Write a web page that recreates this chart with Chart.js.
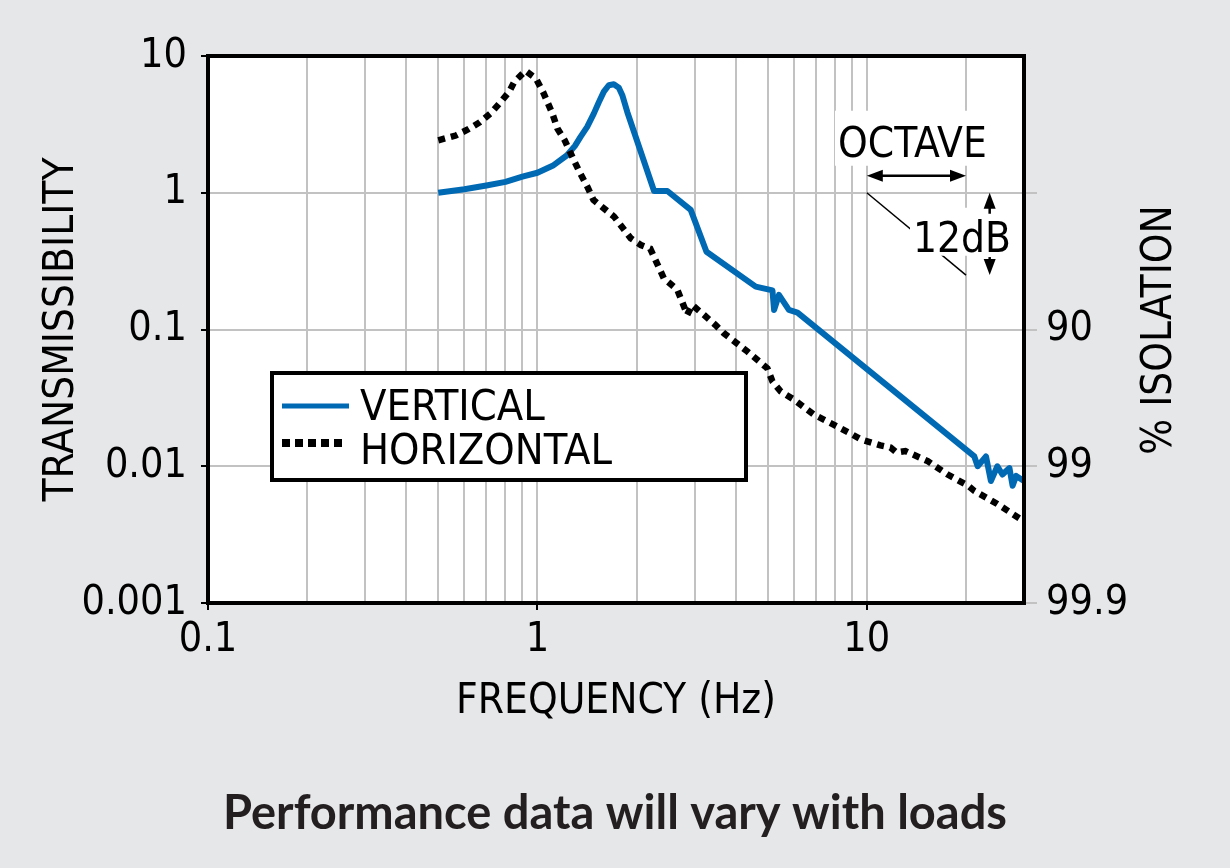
<!DOCTYPE html>
<html><head><meta charset="utf-8">
<script src="https://cdn.jsdelivr.net/npm/chart.js@4.4.1/dist/chart.umd.min.js"></script>
<style>
html,body{margin:0;padding:0;background:#e6e7e9;}
#wrap{width:1230px;height:868px;position:relative;}
canvas{display:block;}
</style></head><body>
<div id="wrap"><canvas id="c" width="1230" height="868"></canvas></div>
<script>
// ---- data ----
const vertFreq = [0.5,0.6,0.7,0.8,0.9,1.0,1.12,1.23,1.3,1.35,1.416,1.483,1.536,1.591,1.647,1.706,1.767,1.81,1.874,2.26,2.48,2.92,3.26,4.6,5.17,5.23,5.41,5.8,6.16,21.2,21.7,23.0,23.8,24.9,25.8,27.1,27.7,28.4,30];
const vertT    = [1.0,1.06,1.13,1.2,1.31,1.4,1.59,1.88,2.2,2.55,3.03,3.79,4.59,5.49,6.11,6.21,5.87,5.17,3.9,1.03,1.03,0.75,0.37,0.206,0.193,0.139,0.179,0.139,0.133,0.0118,0.010,0.0118,0.0078,0.010,0.0087,0.0097,0.0072,0.0085,0.0078];
const horFreq  = [0.5,0.565,0.615,0.669,0.72,0.767,0.82,0.85,0.92,0.99,1.04,1.11,1.15,1.21,1.29,1.35,1.42,1.48,1.71,1.92,2.06,2.2,2.42,2.66,2.85,2.95,3.2,3.47,3.68,4.34,4.99,5.17,5.48,6.01,6.92,7.95,8.94,9.6,11.0,11.8,12.3,13.1,15.3,17.6,20.3,21.2,24.9,29.3,30];
const horT     = [2.42,2.62,2.9,3.28,3.8,4.5,5.46,6.46,7.8,6.84,5.46,3.8,2.95,2.42,1.73,1.38,1.1,0.885,0.668,0.465,0.415,0.39,0.237,0.195,0.128,0.151,0.128,0.108,0.094,0.069,0.052,0.0417,0.0352,0.0307,0.0238,0.0201,0.0173,0.0157,0.0142,0.0137,0.0126,0.0129,0.0109,0.0087,0.0072,0.0066,0.0053,0.0041,0.0043];

const seriesLabels = ['VERTICAL','HORIZONTAL'];
const xGridValues = [0.1,0.2,0.3,0.4,0.5,0.6,0.7,0.8,0.9,1,2,3,4,5,6,7,8,9,10,20];
const xTickValues = [0.1,1,10];
const xTickLabels = ['0.1','1','10'];
const yTickValues = [10,1,0.1,0.01,0.001];
const yTickLabels = ['10','1','0.1','0.01','0.001'];
const isoTickValues = [1,0.1,0.01,0.001];
const isoTickLabels = ['','90','99','99.9'];

const xTitle = 'FREQUENCY (Hz)';
const yTitle = 'TRANSMISSIBILITY';
const isoTitle = '% ISOLATION';
const caption = 'Performance data will vary with loads';
const octaveText = 'OCTAVE';
const dbText = '12dB';
const octaveFrom = 10, octaveTo = 20;       // Hz
const slopeTop = 1, slopeBottom = 0.25;     // transmissibility (12 dB)
const dbArrowFreq = 23.6;                   // Hz

// ---- style ----
const F = "'DejaVu Sans Condensed','DejaVu Sans',sans-serif";
const FB = "Lato,'DejaVu Sans Condensed',sans-serif";
const BLUE = '#0069b4';
const GRID = '#c2c2c2';

const tickFont = {family:F, size:41, lineHeight:1.2};
const titleFont = {family:F, size:42, lineHeight:1.2};

const bgPlugin = {
  id:'bg',
  beforeDraw(chart){
    const {ctx, chartArea:a} = chart;
    ctx.save();
    ctx.fillStyle = '#ffffff';
    ctx.fillRect(a.left, a.top, a.right-a.left, a.bottom-a.top);
    ctx.restore();
  }
};

function arrowHead(ctx, tx, ty, dx, dy, len, hw){
  const px = -dy, py = dx;
  ctx.beginPath();
  ctx.moveTo(tx, ty);
  ctx.lineTo(tx - dx*len + px*hw, ty - dy*len + py*hw);
  ctx.lineTo(tx - dx*len - px*hw, ty - dy*len - py*hw);
  ctx.closePath();
  ctx.fill();
}

const overlayPlugin = {
  id:'overlay',
  afterDatasetsDraw(chart){
    const {ctx, chartArea:a} = chart;
    const xs = chart.scales.x, ys = chart.scales.y;
    const x10 = xs.getPixelForValue(octaveFrom), x20 = xs.getPixelForValue(octaveTo);
    const y1 = ys.getPixelForValue(slopeTop), y4 = ys.getPixelForValue(slopeBottom);
    const xa = xs.getPixelForValue(dbArrowFreq);
    ctx.save();
    ctx.fillStyle = '#000'; ctx.strokeStyle = '#000';
    // slope line
    ctx.lineWidth = 1.5;
    ctx.beginPath(); ctx.moveTo(x10, y1); ctx.lineTo(x20, y4); ctx.stroke();
    // OCTAVE label with white backing
    ctx.font = `42px ${F}`;
    ctx.textAlign = 'center'; ctx.textBaseline = 'alphabetic';
    const ocx = (x10 + x20)/2 - 4, ocy = y1 - 36;
    const ow = ctx.measureText(octaveText).width;
    ctx.fillStyle = '#fff';
    ctx.fillRect(ocx - ow/2 - 3, ocy - 46, ow + 6, 55);
    ctx.fillStyle = '#000';
    ctx.fillText(octaveText, ocx, ocy);
    // 12dB label with white backing
    const dcx = 962, dcy = y1 + 59;
    const dw = ctx.measureText(dbText).width;
    ctx.fillStyle = '#fff';
    ctx.fillRect(dcx - dw/2 - 3, dcy - 44, dw + 6, 48);
    ctx.fillStyle = '#000';
    ctx.fillText(dbText, dcx, dcy);
    // horizontal octave arrow
    const ay = y1 - 17;
    ctx.lineWidth = 2.5;
    ctx.beginPath(); ctx.moveTo(x10 + 10, ay); ctx.lineTo(x20 - 10, ay); ctx.stroke();
    arrowHead(ctx, x10, ay, -1, 0, 16, 6);
    arrowHead(ctx, x20, ay, 1, 0, 16, 6);
    // vertical 12 dB arrows
    ctx.beginPath(); ctx.moveTo(xa, y1 + 12); ctx.lineTo(xa, y1 + 21); ctx.stroke();
    arrowHead(ctx, xa, y1, 0, -1, 16, 6);
    ctx.beginPath(); ctx.moveTo(xa, y4 - 18); ctx.lineTo(xa, y4 - 10); ctx.stroke();
    arrowHead(ctx, xa, y4, 0, 1, 16, 6);
    // frame
    ctx.lineWidth = 4;
    ctx.strokeStyle = '#000';
    ctx.strokeRect(a.left, a.top, a.right - a.left, a.bottom - a.top);
    // right title (reads bottom-to-top)
    ctx.save();
    ctx.font = `42px ${F}`;
    ctx.textAlign = 'center'; ctx.textBaseline = 'middle';
    ctx.translate(1160, 330);
    ctx.rotate(-Math.PI/2);
    ctx.fillText(isoTitle, 0, 0);
    ctx.restore();
    // legend box
    const lx = 272, ly = 373, lw = 474, lh = 107;
    ctx.fillStyle = '#fff';
    ctx.fillRect(lx, ly, lw, lh);
    ctx.lineWidth = 4;
    ctx.strokeRect(lx, ly, lw, lh);
    const ds = chart.data.datasets;
    const rows = [406, 443];
    const baselines = [420, 464];
    ctx.font = `43px ${F}`;
    ctx.textAlign = 'left'; ctx.textBaseline = 'alphabetic';
    ds.forEach((d, i) => {
      ctx.save();
      ctx.strokeStyle = d.borderColor;
      if (d.borderDash && d.borderDash.length) { ctx.setLineDash([8,5]); ctx.lineWidth = 8; }
      else { ctx.setLineDash([]); ctx.lineWidth = 5; }
      ctx.beginPath(); ctx.moveTo(282, rows[i]); ctx.lineTo(i ? 345 : 349, rows[i]); ctx.stroke();
      ctx.restore();
      ctx.fillStyle = '#000';
      ctx.fillText(d.label, 360, baselines[i]);
    });
    ctx.restore();
  }
};

const labelOf = (vals, labels) => v => { const i = vals.findIndex(t => Math.abs(t - v) < 1e-9 * Math.max(1, v)); return i >= 0 ? labels[i] : ''; };

new Chart(document.getElementById('c'), {
  type:'line',
  data:{
    datasets:[
      { label:seriesLabels[0], data:vertFreq.map((f,i)=>({x:f,y:vertT[i]})),
        borderColor:BLUE, borderWidth:6, pointRadius:0, tension:0, order:1,
        borderJoinStyle:'round', fill:false },
      { label:seriesLabels[1], data:horFreq.map((f,i)=>({x:f,y:horT[i]})),
        borderColor:'#000', borderWidth:6.5, borderDash:[7,6], pointRadius:0, tension:0, order:0,
        fill:false }
    ]
  },
  options:{
    responsive:false, animation:false, devicePixelRatio:1,
    layout:{padding:{top:56,left:0,right:0,bottom:0}},
    plugins:{
      legend:{display:false}, tooltip:{enabled:false},
      title:{display:true, text:caption, position:'bottom', color:'#231f20',
        font:{family:FB, size:47, weight:'bold', lineHeight:1.2}, padding:{top:0,bottom:25.8}}
    },
    scales:{
      x:{ type:'logarithmic', min:0.1, max:30,
        afterBuildTicks:s=>{ s.ticks = xGridValues.map(v=>({value:v})); },
        afterFit:s=>{ s.height = 182.8; },
        ticks:{ autoSkip:false, maxRotation:0, minRotation:0, padding:5.4, color:'#000', font:tickFont,
          callback: labelOf(xTickValues, xTickLabels) },
        grid:{ color:GRID, lineWidth:2, tickLength:7, tickWidth:2,
          tickColor: c => (c.tick && xTickValues.some(t=>Math.abs(t-c.tick.value)<1e-9)) ? '#000' : 'rgba(0,0,0,0)' },
        border:{display:false},
        title:{display:true, text:xTitle, color:'#000', font:titleFont, padding:{top:0,bottom:58.1}}
      },
      y:{ type:'logarithmic', position:'left', min:0.001, max:10,
        afterBuildTicks:s=>{ s.ticks = yTickValues.map(v=>({value:v})); },
        afterFit:s=>{ s.width = 208; },
        ticks:{ padding:14, color:'#000', font:tickFont, callback: labelOf(yTickValues, yTickLabels) },
        grid:{ color:GRID, lineWidth:2, tickLength:7, tickWidth:2, tickColor:'#000' },
        border:{display:false},
        title:{display:true, text:yTitle, color:'#000', font:titleFont, padding:{top:37,bottom:0}}
      },
      iso:{ type:'logarithmic', position:'right', min:0.001, max:10,
        afterBuildTicks:s=>{ s.ticks = isoTickValues.map(v=>({value:v})); },
        afterFit:s=>{ s.width = 206; },
        ticks:{ padding:9, color:'#000', font:tickFont, callback: labelOf(isoTickValues, isoTickLabels) },
        grid:{ drawOnChartArea:false, color:GRID, lineWidth:2, tickLength:13, tickWidth:2 },
        border:{display:false}
      }
    }
  },
  plugins:[bgPlugin, overlayPlugin]
});
</script>
</body></html>
